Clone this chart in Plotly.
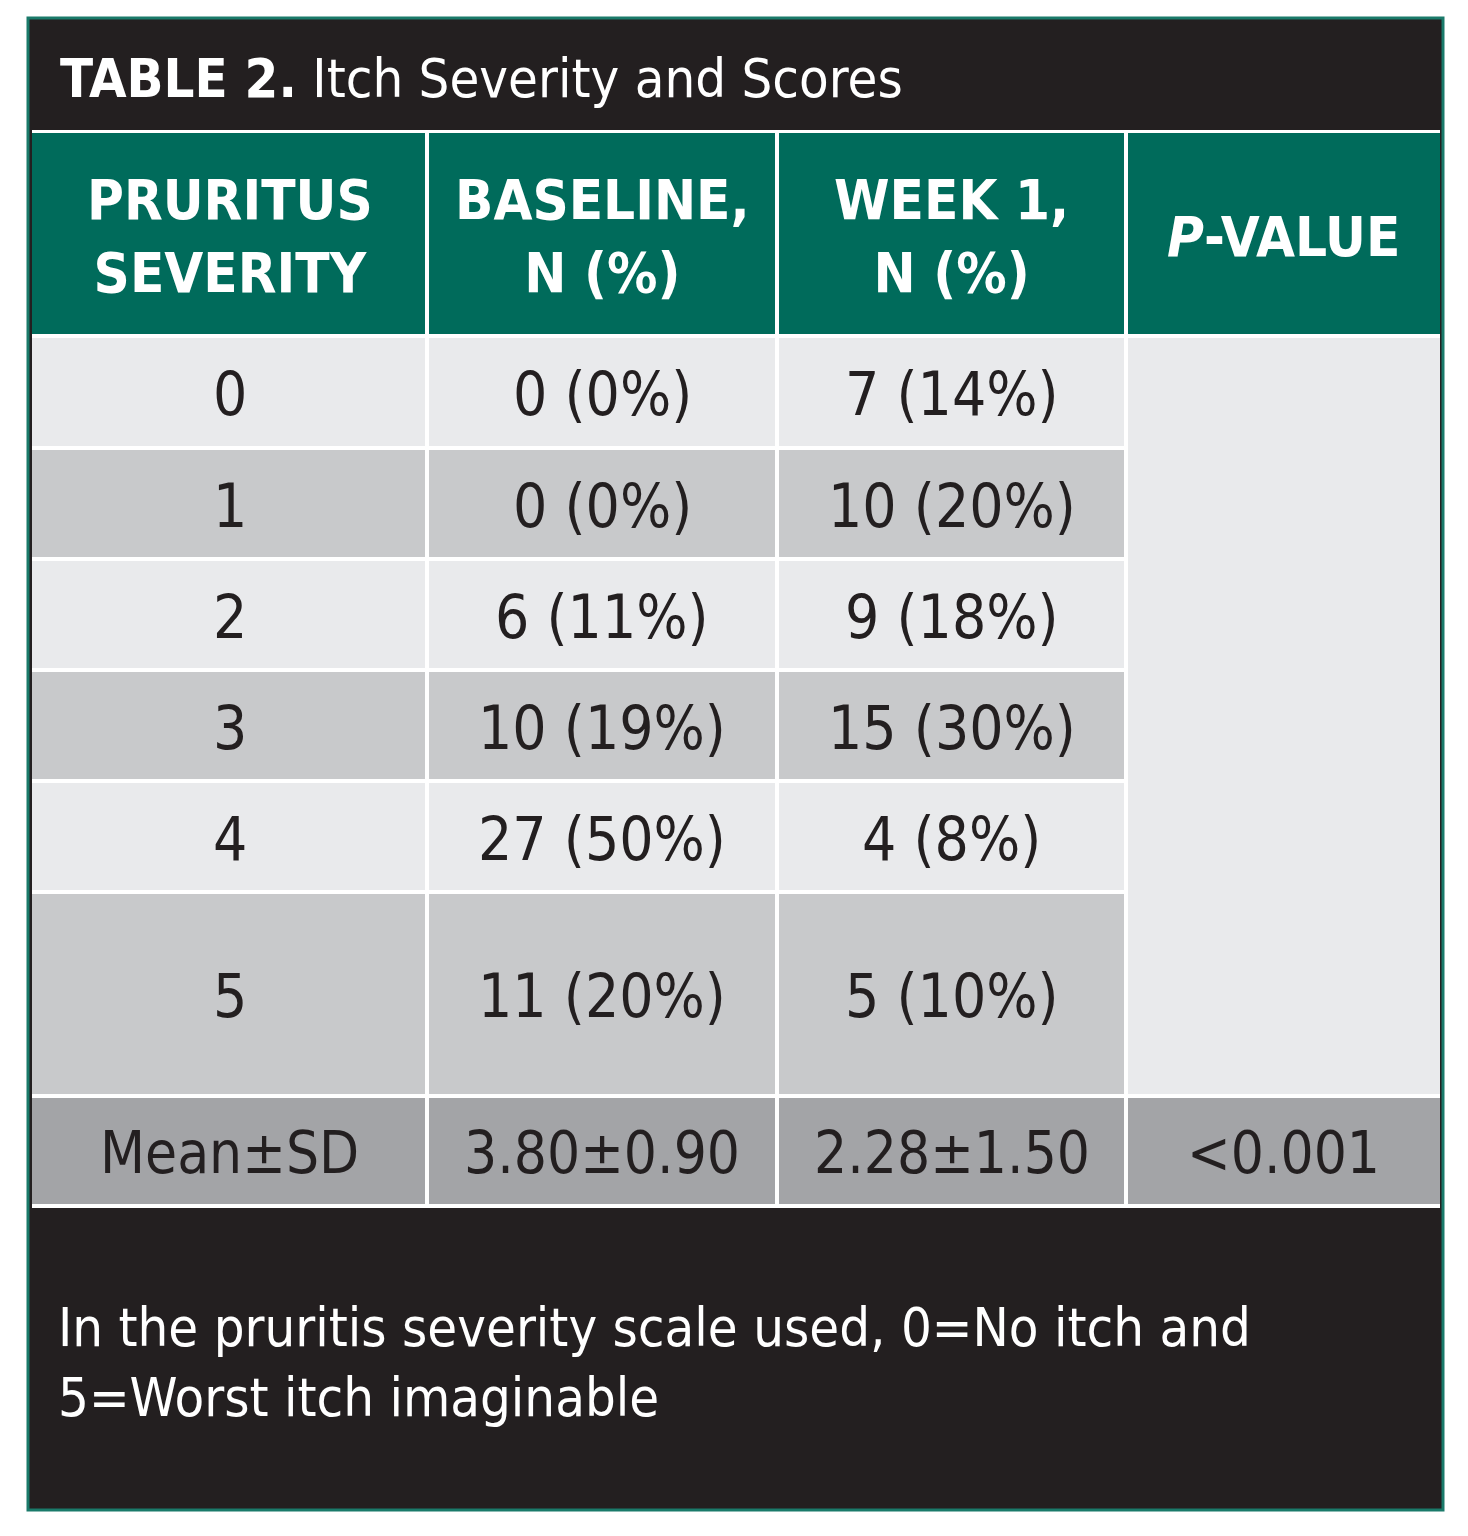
import plotly.graph_objects as go

# table content
title_bold = "TABLE 2."
title_rest = " Itch Severity and Scores"
headers = ["PRURITUS<br>SEVERITY", "BASELINE,<br>N (%)", "WEEK 1,<br>N (%)", "<i>P</i>-VALUE"]
severity = ["0", "1", "2", "3", "4", "5"]
baseline = ["0 (0%)", "0 (0%)", "6 (11%)", "10 (19%)", "27 (50%)", "11 (20%)"]
week1 = ["7 (14%)", "10 (20%)", "9 (18%)", "15 (30%)", "4 (8%)", "5 (10%)"]
mean_row = ["Mean±SD", "3.80±0.90", "2.28±1.50", "<0.001"]
footnote = "In the pruritis severity scale used, 0=No itch and<br>5=Worst itch imaginable"

W, H = 1468, 1536
FONT = "Liberation Sans Narrow, DejaVu Sans Condensed, sans-serif"
DARK = "#231f20"
TEAL = "#006b5b"
LIGHT = "#e9eaec"
MID = "#c8c9cb"
MEAN = "#a3a4a7"
OFF = 8  # page body margin offset

col_edges = [32, 427, 777, 1126, 1440]
row_edges = [336, 448, 559, 670, 781, 892, 1096]
mean_edges = [1096, 1206]

fig = go.Figure()
shapes = []
ann = []

def rect(x0, y0, x1, y1, fill, line=None, lw=0):
    shapes.append(dict(type="rect", x0=x0 - OFF, y0=y0 - OFF, x1=x1 - OFF, y1=y1 - OFF,
                       fillcolor=fill, line=dict(color=line or fill, width=lw), layer="below"))

def text(x, y, t, size, color="#231f20", xanchor="center", align="center"):
    ann.append(dict(x=x - OFF, y=y - OFF, text=t, showarrow=False, xanchor=xanchor,
                    yanchor="middle", align=align,
                    font=dict(family=FONT, size=size, color=color)))

# outer frame
rect(28, 18, 1443, 1510, DARK, "#1a7a6a", 3)
rect(32, 130, 1440, 1208, "white")

# title
text(58, 78, "<b>" + title_bold + "</b>" + title_rest, 54, "white", "left", "left")

# header
for i, h in enumerate(headers):
    x0, x1 = col_edges[i], col_edges[i + 1]
    rect(x0 + 2 if i else x0, 133, x1 - 2 if i < 3 else x1, 334, TEAL)
    text((x0 + x1) / 2, 236, "<b>" + h + "</b>", 56, "white")

# body rows
for r in range(len(severity)):
    y0, y1 = row_edges[r], row_edges[r + 1]
    fill = LIGHT if r % 2 == 0 else MID
    vals = [severity[r], baseline[r], week1[r]]
    for c in range(3):
        x0, x1 = col_edges[c], col_edges[c + 1]
        rect(x0 + 2 if c else x0, y0 + 2, x1 - 2, y1 - 2, fill)
        text((x0 + x1) / 2, (y0 + y1) / 2 + 2, vals[c], 60)
# merged p-value cell
rect(col_edges[3] + 2, row_edges[0] + 2, col_edges[4], row_edges[-1] - 2, LIGHT)

# mean row
for c, v in enumerate(mean_row):
    x0, x1 = col_edges[c], col_edges[c + 1]
    rect(x0 + 2 if c else x0, mean_edges[0] + 2, x1 - 2 if c < 3 else x1, mean_edges[1] - 2, MEAN)
    text((x0 + x1) / 2, (mean_edges[0] + mean_edges[1]) / 2 + 2, v, 58)

# footnote
text(56, 1362, footnote, 54, "white", "left", "left")

fig.update_layout(
    width=W, height=H, margin=dict(l=0, r=0, t=0, b=0),
    paper_bgcolor="white", plot_bgcolor="white",
    xaxis=dict(range=[0, W], visible=False, fixedrange=True),
    yaxis=dict(range=[H, 0], visible=False, fixedrange=True),
    shapes=shapes, annotations=ann, showlegend=False,
)
fig.write_html("out.html")
